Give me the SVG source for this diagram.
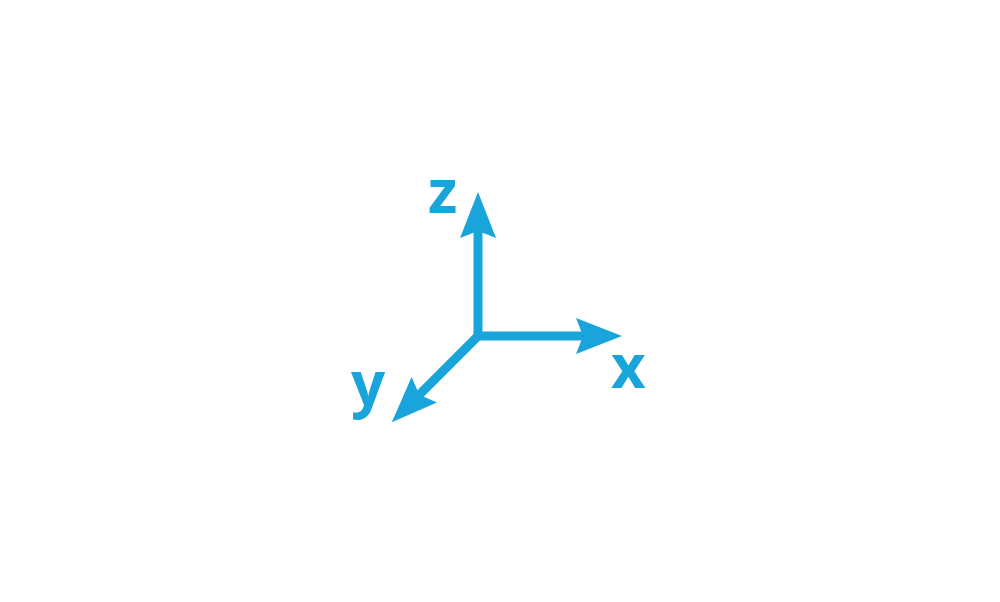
<svg xmlns="http://www.w3.org/2000/svg" width="1000" height="602" viewBox="0 0 1000 602">
  <style>
    .axis { fill: none; stroke: #19a5db; stroke-width: 9; stroke-linejoin: miter; }
    .label { font-family: "Open Sans", "Liberation Sans", sans-serif; font-weight: 700; font-size: 60px; fill: #19a5db; }
  </style>
  <defs>
    <marker id="head" viewBox="0 0 46 36" refX="16" refY="18" markerWidth="46" markerHeight="36" markerUnits="userSpaceOnUse" orient="auto-start-reverse">
      <path d="M0,0 L46,18 L0,36 L7,18 Z" fill="#19a5db"/>
    </marker>
  </defs>
  <rect width="1000" height="602" fill="#ffffff"/>
  <g id="connectors">
    <path class="axis" d="M478,222 L478,336 L592,336" marker-start="url(#head)" marker-end="url(#head)"/>
    <line class="axis" x1="480" y1="334" x2="413" y2="401" marker-end="url(#head)"/>
  </g>
  <g id="node-z"><text class="label" x="428" y="213">z</text></g>
  <g id="node-x"><text class="label" x="611" y="388">x</text></g>
  <g id="node-y"><text class="label" x="351" y="405">y</text></g>
</svg>
